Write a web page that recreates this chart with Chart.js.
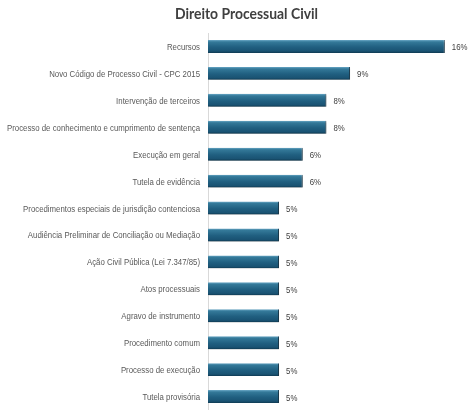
<!DOCTYPE html>
<html>
<head>
<meta charset="utf-8">
<script src="https://cdn.jsdelivr.net/npm/chart.js@4.4.1/dist/chart.umd.min.js"></script>
<style>
html,body{margin:0;padding:0;background:#fff;}
#wrap{width:474px;height:410px;position:relative;}
</style>
</head>
<body>
<div id="wrap"><canvas id="c" width="474" height="410"></canvas></div>
<script>
const title = "Direito Processual Civil";
const categories = [
  "Recursos",
  "Novo Código de Processo Civil - CPC 2015",
  "Intervenção de terceiros",
  "Processo de conhecimento e cumprimento de sentença",
  "Execução em geral",
  "Tutela de evidência",
  "Procedimentos especiais de jurisdição contenciosa",
  "Audiência Preliminar de Conciliação ou Mediação",
  "Ação Civil Pública (Lei 7.347/85)",
  "Atos processuais",
  "Agravo de instrumento",
  "Procedimento comum",
  "Processo de execução",
  "Tutela provisória"
];
const values = [16, 9.6, 8, 8, 6.4, 6.4, 4.8, 4.8, 4.8, 4.8, 4.8, 4.8, 4.8, 4.8];
const valueLabels = ["16%", "9%", "8%", "8%", "6%", "6%", "5%", "5%", "5%", "5%", "5%", "5%", "5%", "5%"];

const FONT = "'Liberation Sans', Arial, sans-serif";
const BAR_PCT = 0.48;
const AXIS_X = 208;
const LABEL_FONT = "9px " + FONT;
const LONGEST_LABEL_WIDTH = 193;   // width of the longest category label in the reference
const TITLE_WIDTH = 143;

function narrowScale(ctx) {
  ctx.save();
  ctx.font = LABEL_FONT;
  let w = 0;
  categories.forEach(c => { w = Math.max(w, ctx.measureText(c).width); });
  ctx.restore();
  return Math.min(1, LONGEST_LABEL_WIDTH / w);
}

const textPlugin = {
  id: 'texts',
  afterDraw(chart) {
    const ctx = chart.ctx;
    const ys = chart.scales.y;
    const sx = narrowScale(ctx);

    // title
    ctx.save();
    ctx.font = "bold 16px Lato, 'Open Sans', sans-serif";
    const tw = ctx.measureText(title).width;
    const tsx = Math.min(1, TITLE_WIDTH / tw);
    ctx.translate(246.5, 19);
    ctx.scale(tsx, 1);
    ctx.fillStyle = "#404040";
    ctx.textAlign = "center";
    ctx.textBaseline = "alphabetic";
    ctx.fillText(title, 0, 0);
    ctx.restore();

    // category labels
    ctx.save();
    ctx.font = LABEL_FONT;
    ctx.fillStyle = "#595959";
    ctx.textAlign = "right";
    ctx.textBaseline = "middle";
    categories.forEach((c, i) => {
      const y = ys.getPixelForValue(i);
      ctx.save();
      ctx.translate(AXIS_X - 8, y + 1);
      ctx.scale(sx, 1);
      ctx.fillText(c, 0, 0);
      ctx.restore();
    });
    ctx.restore();

    // value labels
    const meta = chart.getDatasetMeta(0);
    ctx.save();
    ctx.font = LABEL_FONT;
    ctx.fillStyle = "#404040";
    ctx.textAlign = "left";
    ctx.textBaseline = "middle";
    meta.data.forEach((bar, i) => {
      ctx.save();
      ctx.translate(bar.x + 7, bar.y + 1.5);
      ctx.scale(sx, 1);
      ctx.fillText(valueLabels[i], 0, 0);
      ctx.restore();
    });
    ctx.restore();
  }
};

const shadowPlugin = {
  id: 'barShadow',
  beforeDatasetsDraw(chart) {
    const ctx = chart.ctx;
    ctx.save();
    ctx.shadowColor = "rgba(0,0,0,0.35)";
    ctx.shadowBlur = 2;
    ctx.shadowOffsetX = 1;
    ctx.shadowOffsetY = 1.5;
  },
  afterDatasetsDraw(chart) {
    chart.ctx.restore();
  }
};

function barFill(context) {
  const chart = context.chart;
  const ys = chart.scales && chart.scales.y;
  if (!ys || !chart.chartArea || context.dataIndex === undefined) return "#1f5f7f";
  const cy = ys.getPixelForValue(context.dataIndex);
  const h = (chart.chartArea.bottom - chart.chartArea.top) / categories.length * BAR_PCT;
  if (!isFinite(cy) || !isFinite(h)) return "#1f5f7f";
  const top = cy - h / 2, bottom = cy + h / 2;
  const g = chart.ctx.createLinearGradient(0, top, 0, bottom);
  g.addColorStop(0, "#6aa8c6");
  g.addColorStop(0.15, "#347999");
  g.addColorStop(0.55, "#205f80");
  g.addColorStop(0.85, "#1a5373");
  g.addColorStop(1, "#0f3a52");
  return g;
}

new Chart(document.getElementById('c'), {
  type: 'bar',
  data: {
    labels: categories,
    datasets: [{
      data: values,
      backgroundColor: barFill,
      borderColor: "#163f57",
      borderWidth: {top: 0, bottom: 0, left: 0, right: 1},
      categoryPercentage: 1,
      barPercentage: BAR_PCT
    }]
  },
  plugins: [shadowPlugin, textPlugin],
  options: {
    indexAxis: 'y',
    responsive: false,
    animation: false,
    devicePixelRatio: 1,
    layout: {padding: {left: 0, right: 7, top: 33, bottom: 0}},
    plugins: {
      legend: {display: false},
      tooltip: {enabled: false},
      title: {display: false}
    },
    scales: {
      x: {
        display: false,
        min: 0,
        max: 17.5
      },
      y: {
        afterFit(scale) { scale.width = AXIS_X; },
        grid: {display: false, drawTicks: false},
        border: {display: true, color: "#d9d9d9", width: 1},
        ticks: {display: false}
      }
    }
  }
});
</script>
</body>
</html>
